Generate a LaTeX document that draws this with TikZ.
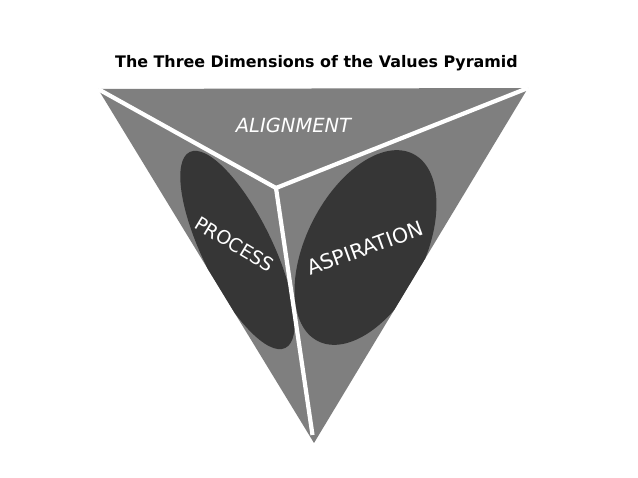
\documentclass[tikz,border=0pt]{standalone}
\usepackage{fontspec}
\setmainfont{DejaVu Sans}
\newfontfamily\titlefont{DejaVu Sans}
\definecolor{facegray}{HTML}{7F7F7F}
\definecolor{ovaldark}{HTML}{363636}
\begin{document}
\begin{tikzpicture}[x=1pt,y=-1pt,
  face/.style={fill=facegray},
  oval/.style={fill=ovaldark},
  ridge/.style={draw=white,line width=4.2pt,line cap=butt},
  lab/.style={text=white,inner sep=0pt}]
\useasboundingbox (0,0) rectangle (638,478);
\fill[white] (0,0) rectangle (638,478);
\coordinate (TL) at (98,89);
\coordinate (TR) at (528,88);
\coordinate (B) at (314,443);
\coordinate (C) at (276,188);
\coordinate (Bend) at (312.5,435);
\node[inner sep=0pt,anchor=base,font=\titlefont\bfseries\fontsize{15.9}{16}\selectfont] (title) at (316.5,68) {The Three Dimensions of the Values Pyramid};
\path[face] (TL) -- (TR) -- (B) -- cycle;
\begin{scope}
  \clip (TL) -- (TR) -- (B) -- cycle;
  \path[oval] (237.5,250) ellipse [x radius=109, y radius=35, rotate=-64];
  \path[oval] (365.5,247.5) ellipse [x radius=105, y radius=59, rotate=63];
\end{scope}
\draw[ridge] (TL) -- (C);
\draw[ridge] (TR) -- (C);
\draw[ridge] (C) -- (Bend);
\node[lab,anchor=base,font={\itshape\fontsize{19.5}{20}\selectfont}] (align) at (293.5,133) {ALIGNMENT};
\node[lab,rotate=-31,font={\fontsize{18.8}{19}\selectfont}] (process) at (234.5,244) {PROCESS};
\node[lab,rotate=20,font={\fontsize{20.5}{21}\selectfont}] (aspiration) at (365,248) {ASPIRATION};
\end{tikzpicture}
\end{document}
